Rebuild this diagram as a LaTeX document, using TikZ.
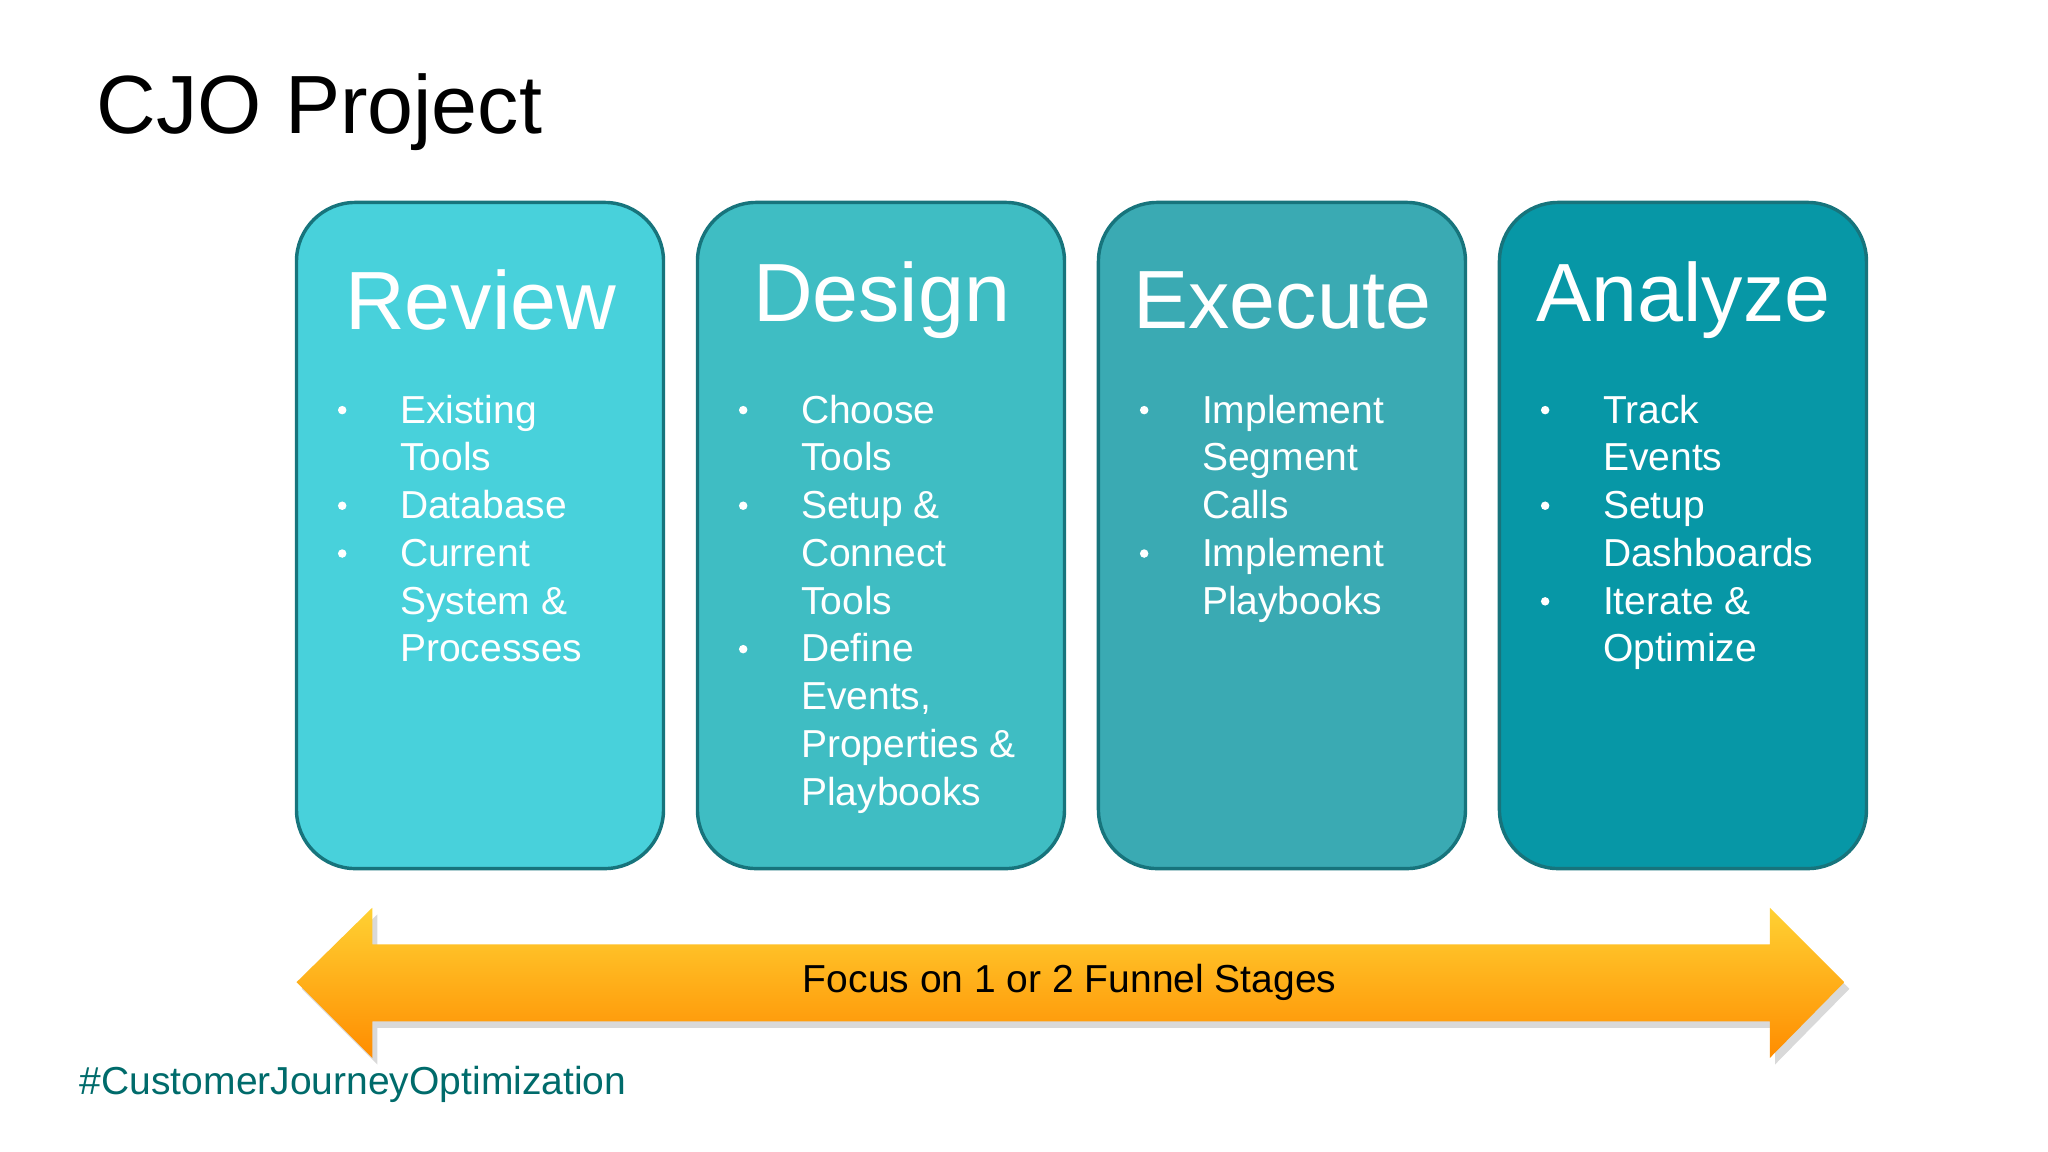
\documentclass[tikz,border=0pt]{standalone}
\usepackage{fontspec}
\setmainfont{Liberation Sans}
\usetikzlibrary{shadows}
\definecolor{cA}{HTML}{48D1DB}
\definecolor{cB}{HTML}{3FBDC3}
\definecolor{cC}{HTML}{3AAAB3}
\definecolor{cD}{HTML}{0797A6}
\definecolor{bd}{HTML}{17747C}
\definecolor{tag}{HTML}{006B6B}
\begin{document}
\begin{tikzpicture}[x=0.02cm,y=-0.02cm,
  stage/.style={draw=bd,line width=1.5pt,rounded corners=0.9cm},
  head/.style={text=white,font=\fontsize{36}{40}\selectfont},
  body/.style={text=white,font=\fontsize{17}{20.8}\selectfont,align=left,anchor=north west,inner sep=0pt},
  dot/.style={circle,fill=white,inner sep=0pt,minimum size=0.13cm}]
\useasboundingbox (0,0) rectangle (1568,882);
\node[anchor=base west,font=\fontsize{36}{40}\selectfont] (title) at (68,102) {CJO Project};
% boxes
\foreach \x/\c/\n in {227/cA/b1,534/cB/b2,841/cC/b3,1148/cD/b4}{
  \draw[stage,fill=\c] (\x,155) rectangle ++(281,510);
}
\node[head] (h1) at (368,230) {Review};
\node[head] (h2) at (675,230) {Design};
\node[head] (h3) at (982,230) {Execute};
\node[head] (h4) at (1289,230) {Analyze};
\node[body] (t1) at (306,302) {Existing\\Tools\\Database\\Current\\System \&\\Processes};
\node[body] (t2) at (613,302) {Choose\\Tools\\Setup \&\\Connect\\Tools\\Define\\Events,\\Properties \&\\Playbooks};
\node[body] (t3) at (920,302) {Implement\\Segment\\Calls\\Implement\\Playbooks};
\node[body] (t4) at (1227,302) {Track\\Events\\Setup\\Dashboards\\Iterate \&\\Optimize};
\foreach \i in {0,2,3} \node[dot] at (262,314+36.6*\i) {};
\foreach \i in {0,2,5} \node[dot] at (569,314+36.6*\i) {};
\foreach \i in {0,3} \node[dot] at (876,314+36.6*\i) {};
\foreach \i in {0,2,4} \node[dot] at (1183,314+36.6*\i) {};
% arrow
\path[top color=orange!45!yellow!80!white, bottom color=orange!90!yellow, drop shadow={shadow xshift=0.08cm,shadow yshift=-0.1cm,opacity=0.3}]
 (227,752) -- (285,695) -- (285,723) -- (1355,723) -- (1355,695) -- (1412,752)
 -- (1355,810) -- (1355,782) -- (285,782) -- (285,810) -- cycle;
\node[font=\fontsize{17}{20}\selectfont] (arr) at (819,752) {Focus on 1 or 2 Funnel Stages};
\node[anchor=base west,text=tag,font=\fontsize{17}{20}\selectfont] (tagn) at (55,838) {\#CustomerJourneyOptimization};
\end{tikzpicture}
\end{document}
